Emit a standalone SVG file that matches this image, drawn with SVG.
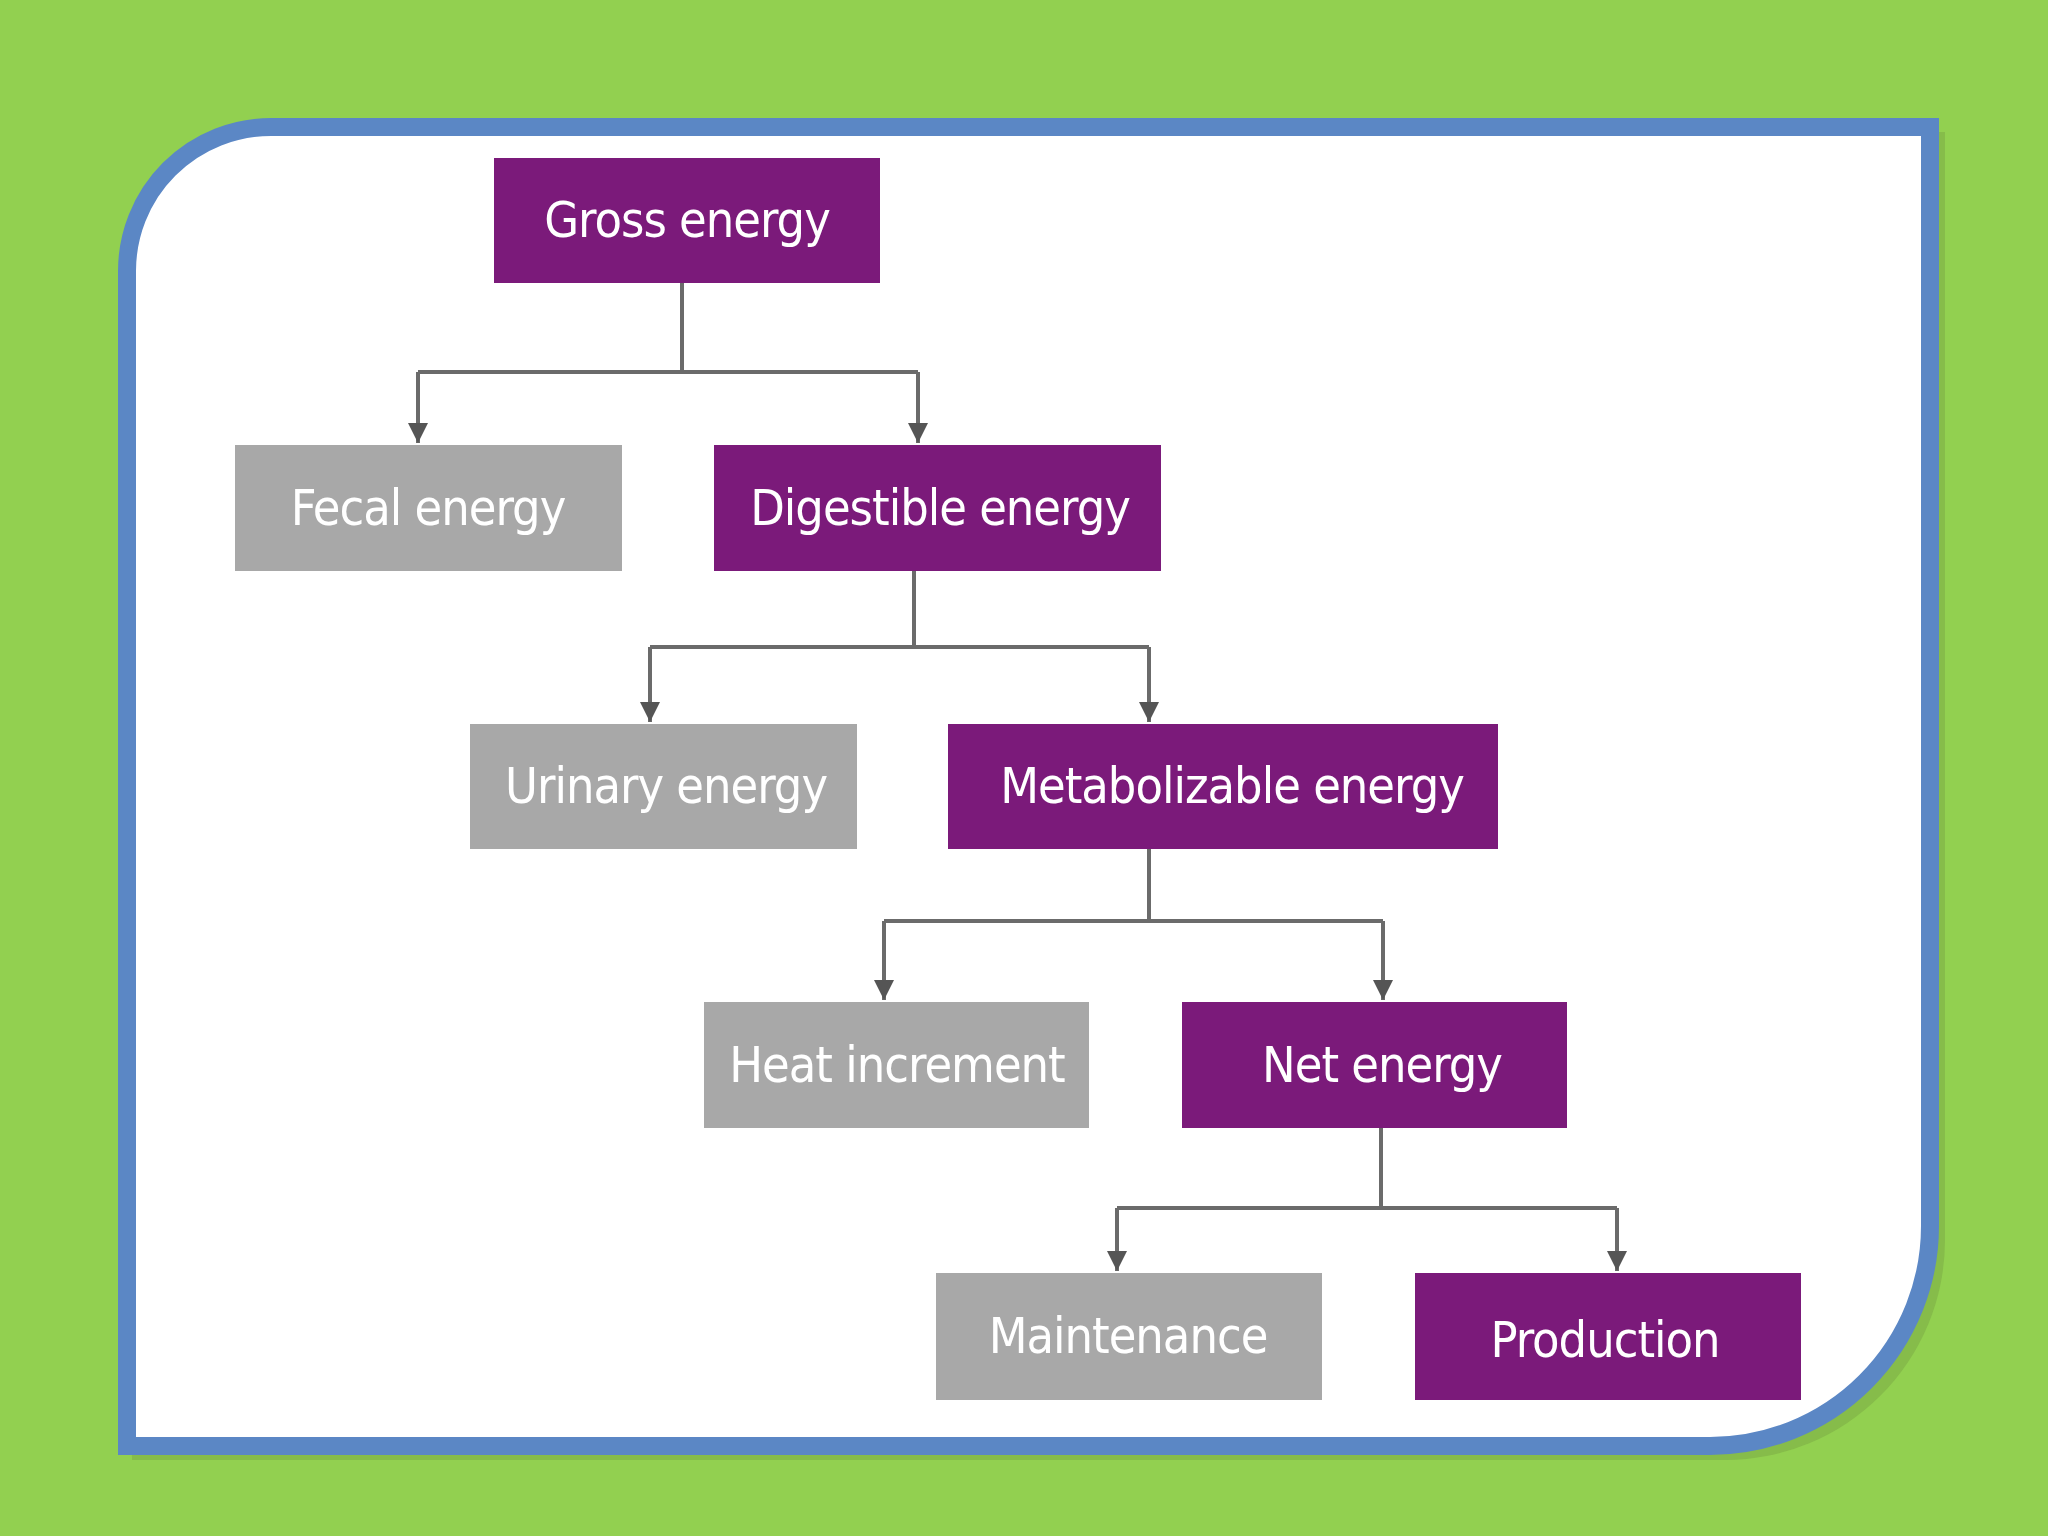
<svg xmlns="http://www.w3.org/2000/svg" width="2048" height="1536" viewBox="0 0 2048 1536">
<defs>
<style>
.p{fill:#7B1A7A}
.g{fill:#A8A8A8}
.t{fill:#fff;font-family:"DejaVu Sans Condensed","Liberation Sans",sans-serif;font-size:50px;letter-spacing:-1px;text-anchor:middle;dominant-baseline:central}
.c{stroke:#6b6b6b;stroke-width:4;fill:none}
</style>
<marker id="a" viewBox="0 0 10 10" refX="10" refY="5" markerWidth="5" markerHeight="5" markerUnits="strokeWidth" orient="auto"><path d="M0,0 L10,5 L0,10 Z" fill="#555"/></marker>
</defs>
<rect width="2048" height="1536" fill="#92D050"/>
<path d="M132,1460 L1725,1460 A220,220 0 0 0 1945,1240 L1945,132 L270,132 A144,144 0 0 0 126,276 Z" fill="#7aa844" opacity="0.5"/>
<path d="M127,1446 L1710,1446 A220,220 0 0 0 1930,1226 L1930,127 L271,127 A144,144 0 0 0 127,271 Z" fill="#fff" stroke="#5B87C5" stroke-width="18"/>
<g id="connectors" class="c">
<path d="M682,283 V372"/><path d="M418,372 H918"/>
<path d="M418,372 V443" marker-end="url(#a)"/><path d="M918,372 V443" marker-end="url(#a)"/>
<path d="M914,571 V647"/><path d="M650,647 H1149"/>
<path d="M650,647 V722" marker-end="url(#a)"/><path d="M1149,647 V722" marker-end="url(#a)"/>
<path d="M1149,849 V921"/><path d="M884,921 H1383"/>
<path d="M884,921 V1000" marker-end="url(#a)"/><path d="M1383,921 V1000" marker-end="url(#a)"/>
<path d="M1381,1128 V1208"/><path d="M1117,1208 H1617"/>
<path d="M1117,1208 V1271" marker-end="url(#a)"/><path d="M1617,1208 V1271" marker-end="url(#a)"/>
</g>
<g id="gross"><rect class="p" x="494" y="158" width="386" height="125"/><text class="t" x="687" y="220">Gross energy</text></g>
<g id="fecal"><rect class="g" x="235" y="445" width="387" height="126"/><text class="t" x="428" y="508">Fecal energy</text></g>
<g id="digestible"><rect class="p" x="714" y="445" width="447" height="126"/><text class="t" x="940" y="508">Digestible energy</text></g>
<g id="urinary"><rect class="g" x="470" y="724" width="387" height="125"/><text class="t" x="666" y="786">Urinary energy</text></g>
<g id="metabolizable"><rect class="p" x="948" y="724" width="550" height="125"/><text class="t" x="1232" y="786">Metabolizable energy</text></g>
<g id="heat"><rect class="g" x="704" y="1002" width="385" height="126"/><text class="t" x="897" y="1065">Heat increment</text></g>
<g id="net"><rect class="p" x="1182" y="1002" width="385" height="126"/><text class="t" x="1382" y="1065">Net energy</text></g>
<g id="maintenance"><rect class="g" x="936" y="1273" width="386" height="127"/><text class="t" x="1128" y="1336">Maintenance</text></g>
<g id="production"><rect class="p" x="1415" y="1273" width="386" height="127"/><text class="t" x="1605" y="1340">Production</text></g>
</svg>
